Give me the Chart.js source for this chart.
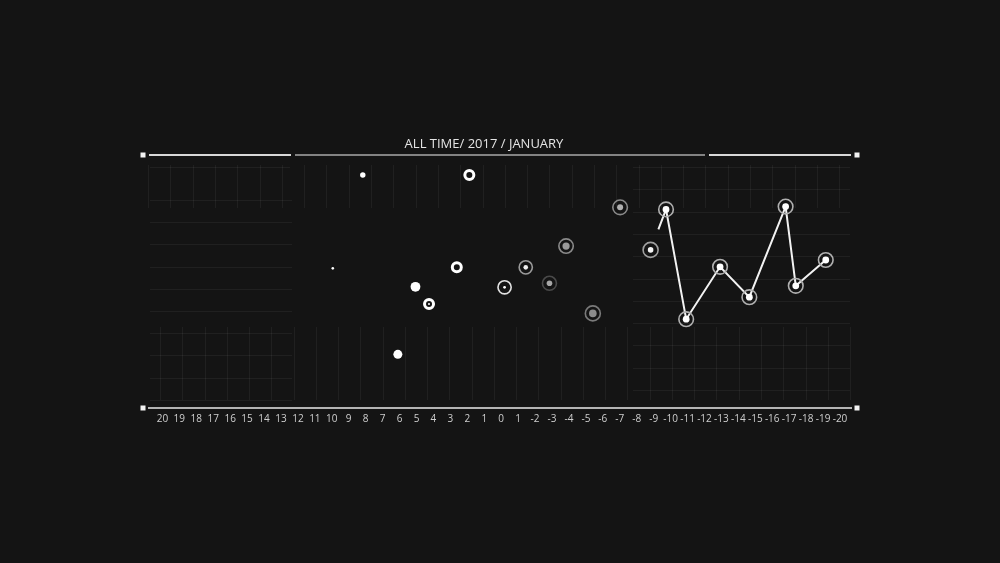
<!DOCTYPE html>
<html><head><meta charset="utf-8">
<script src="https://cdn.jsdelivr.net/npm/chart.js@4.4.0/dist/chart.umd.min.js"></script>
<style>html,body{margin:0;padding:0;background:#141414;overflow:hidden}#wrap{width:1000px;height:563px;position:relative}</style>
</head><body><div id="wrap"><canvas id="c" width="1000" height="563"></canvas></div>
<script>
// ---- data ----
const titleText = 'ALL TIME/ 2017 / JANUARY';
const xLabels = ['20','19','18','17','16','15','14','13','12','11','10','9','8','7','6','5','4','3','2','1','0','1','-2','-3','-4','-5','-6','-7','-8','-9','-10','-11','-12','-13','-14','-15','-16','-17','-18','-19','-20'];
// solid white dots
const dotX = [11.83, 10.06, 14.94, 13.90];
const dotY = [92.1, 55.2, 47.9, 21.2];
const dotR = [2.7, 1.3, 4.9, 4.5];
// thick white rings
const ringX = [18.12, 17.38, 15.74];
const ringY = [92.1, 55.6, 41.1];
const ringCenterR = [0, 0, 1];
// thin-ring markers
const markX = [20.20, 21.45, 22.85, 23.83, 25.41, 27.02, 28.82];
const markY = [47.7, 55.6, 49.3, 64.0, 37.4, 79.3, 62.5];
const markRingR = [6.6, 6.6, 7, 7.2, 7.5, 7.3, 7.5];
const markRingColor = ['#e2e2e2', '#9a9a9a', '#4a4a4a', '#8a8a8a', '#7a7a7a', '#8a8a8a', '#a0a0a0'];
const markDotColor = ['#ffffff', '#f0f0f0', '#a8a8a8', '#9a9a9a', '#8c8c8c', '#b0b0b0', '#f4f4f4'];
const markDotR = [1.4, 2.3, 2.8, 3.6, 3.8, 3.0, 2.8];
// line series
const lineX = [29.28, 29.73, 30.92, 32.92, 34.65, 36.79, 37.39, 39.16];
const lineY = [70.6, 78.5, 35.1, 55.8, 43.8, 79.6, 48.3, 58.5];
const lineMarkR = [0, 7.3, 7.3, 7.3, 7.3, 7.3, 7.3, 7.3];
const lineDotR = [0, 3.4, 3.4, 3.4, 3.4, 3.4, 3.4, 3.4];

const pts = (xs, ys) => xs.map((x, i) => ({x: x, y: ys[i]}));

Chart.defaults.font.family = "'Open Sans', sans-serif";

const deco = {
  id: 'deco',
  beforeDatasetsDraw(chart) {
    const ctx = chart.ctx, a = chart.chartArea;
    ctx.save();
    ctx.strokeStyle = 'rgba(255,255,255,0.055)';
    ctx.lineWidth = 1;
    const L = a.left, T = a.top;
    ctx.beginPath();
    // top band verticals
    for (let x = L - 1; x <= a.right; x += 22.3) { ctx.moveTo(Math.round(x) + 0.5, T + 10); ctx.lineTo(Math.round(x) + 0.5, T + 53); }
    // bottom band verticals
    for (let x = L + 11; x <= a.right + 1; x += 22.26) { ctx.moveTo(Math.round(x) + 0.5, T + 172); ctx.lineTo(Math.round(x) + 0.5, T + 245); }
    // left horizontals
    for (let y = T + 45; y <= T + 246; y += 22.2) { ctx.moveTo(L + 1, Math.round(y) + 0.5); ctx.lineTo(L + 143, Math.round(y) + 0.5); }
    ctx.moveTo(L + 1, T + 12.5); ctx.lineTo(L + 141, T + 12.5);
    // right horizontals
    for (let y = T + 12; y <= T + 236; y += 22.3) { ctx.moveTo(L + 484, Math.round(y) + 0.5); ctx.lineTo(a.right - 1, Math.round(y) + 0.5); }
    ctx.stroke();
    ctx.restore();
  },
  afterDraw(chart) {
    const ctx = chart.ctx, a = chart.chartArea;
    ctx.save();
    // top frame line segments
    ctx.lineCap = 'butt';
    ctx.strokeStyle = '#d8d8d8'; ctx.lineWidth = 2;
    ctx.beginPath();
    ctx.moveTo(a.left, a.top); ctx.lineTo(a.left + 142, a.top);
    ctx.moveTo(a.right - 142, a.top); ctx.lineTo(a.right, a.top);
    ctx.stroke();
    ctx.strokeStyle = '#a8a8a8'; ctx.lineWidth = 1.5;
    ctx.beginPath();
    ctx.moveTo(a.left + 146, a.top); ctx.lineTo(a.right - 146, a.top);
    ctx.stroke();
    // corner squares
    ctx.fillStyle = '#f2f2f2';
    [[a.left - 6, a.top], [a.right + 6, a.top], [a.left - 6, a.bottom], [a.right + 6, a.bottom]].forEach(p => {
      ctx.fillRect(p[0] - 2.5, p[1] - 2.5, 5, 5);
    });
    // title
    ctx.fillStyle = '#e4e4e4';
    ctx.font = "13px 'Open Sans', sans-serif";
    ctx.textAlign = 'center';
    ctx.textBaseline = 'alphabetic';
    ctx.fillText(titleText, a.left + 335, a.top - 7.5);
    ctx.restore();
  }
};

new Chart(document.getElementById('c'), {
  type: 'scatter',
  data: {
    datasets: [
      { label: 'line', data: pts(lineX, lineY), showLine: true, borderColor: '#f2f2f2', borderWidth: 2, pointRadius: 0, tension: 0, order: 9 },
      { label: 'lineRings', data: pts(lineX, lineY), pointRadius: lineMarkR, pointBorderColor: '#b0b0b0', pointBackgroundColor: 'rgba(0,0,0,0)', pointBorderWidth: 1.6, order: 8 },
      { label: 'lineDots', data: pts(lineX, lineY), pointRadius: lineDotR, pointBackgroundColor: '#ffffff', pointBorderWidth: 0, order: 1 },
      { label: 'markRings', data: pts(markX, markY), pointRadius: markRingR, pointBorderColor: markRingColor, pointBackgroundColor: 'rgba(0,0,0,0)', pointBorderWidth: 1.6, order: 7 },
      { label: 'markDots', data: pts(markX, markY), pointRadius: markDotR, pointBackgroundColor: markDotColor, pointBorderWidth: 0, order: 2 },
      { label: 'rings', data: pts(ringX, ringY), pointRadius: 4.5, pointBorderColor: '#ffffff', pointBackgroundColor: 'rgba(0,0,0,0)', pointBorderWidth: 3, order: 6 },
      { label: 'ringCenters', data: pts(ringX, ringY), pointRadius: ringCenterR, pointBackgroundColor: '#ffffff', pointBorderWidth: 0, order: 3 },
      { label: 'dots', data: pts(dotX, dotY), pointRadius: dotR, pointBackgroundColor: '#ffffff', pointBorderWidth: 0, order: 4 }
    ]
  },
  options: {
    responsive: false,
    animation: false,
    events: [],
    layout: { padding: { left: 149, right: 149, top: 155, bottom: 131 } },
    plugins: { legend: { display: false }, tooltip: { enabled: false }, title: { display: false } },
    scales: {
      x: {
        type: 'linear', min: -0.79, max: 40.65,
        afterBuildTicks: s => { s.ticks = xLabels.map((_, i) => ({ value: i })); },
        afterFit: s => { s.height = 24; },
        grid: { display: false, drawTicks: false },
        border: { display: true, color: '#b4b4b4', width: 2 },
        ticks: { color: '#cfcfcf', font: { size: 10 }, padding: 5, maxRotation: 0, autoSkip: false,
                 callback: (v) => xLabels[v] }
      },
      y: { type: 'linear', min: 0, max: 100, display: false }
    }
  },
  plugins: [deco]
});
</script></body></html>
